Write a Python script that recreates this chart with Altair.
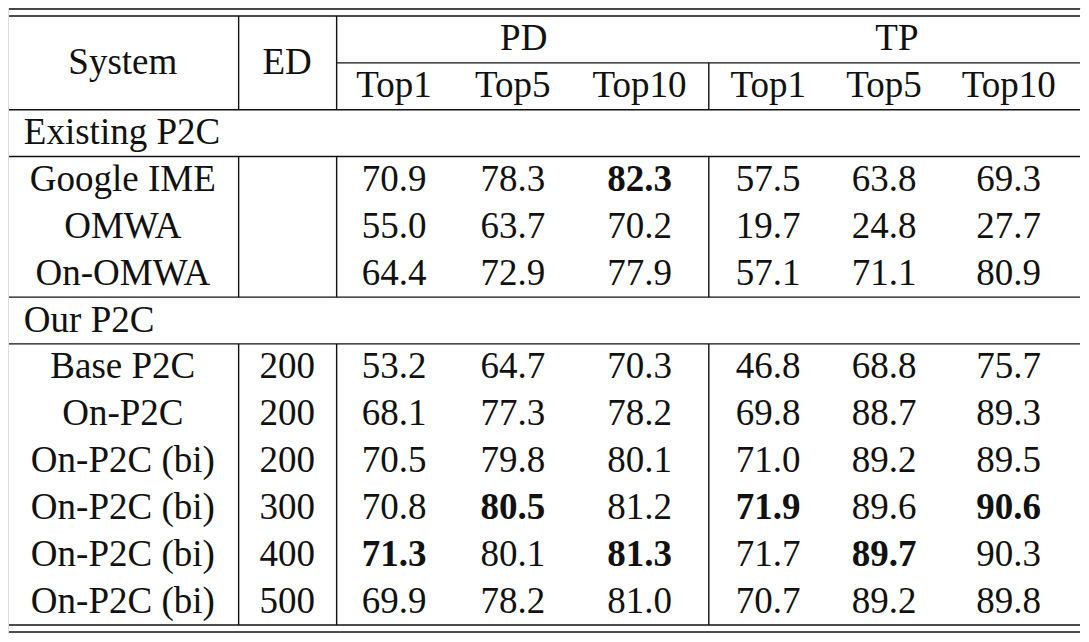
import altair as alt
import pandas as pd

# table contents
systems = ["Google IME", "OMWA", "On-OMWA",
           "Base P2C", "On-P2C", "On-P2C (bi)", "On-P2C (bi)", "On-P2C (bi)", "On-P2C (bi)"]
groups = ["Existing P2C"] * 3 + ["Our P2C"] * 6
eds = ["", "", "", "200", "200", "200", "300", "400", "500"]
pd_top1 = [70.9, 55.0, 64.4, 53.2, 68.1, 70.5, 70.8, 71.3, 69.9]
pd_top5 = [78.3, 63.7, 72.9, 64.7, 77.3, 79.8, 80.5, 80.1, 78.2]
pd_top10 = [82.3, 70.2, 77.9, 70.3, 78.2, 80.1, 81.2, 81.3, 81.0]
tp_top1 = [57.5, 19.7, 57.1, 46.8, 69.8, 71.0, 71.9, 71.7, 70.7]
tp_top5 = [63.8, 24.8, 71.1, 68.8, 88.7, 89.2, 89.6, 89.7, 89.2]
tp_top10 = [69.3, 27.7, 80.9, 75.7, 89.3, 89.5, 90.6, 90.3, 89.8]
metric_cols = ["PD Top1", "PD Top5", "PD Top10", "TP Top1", "TP Top5", "TP Top10"]
bold_cells = [("PD Top10", 0), ("PD Top5", 6), ("TP Top1", 6), ("TP Top10", 6),
              ("PD Top1", 7), ("PD Top10", 7), ("TP Top5", 7)]

# layout (x in page pixels, y in table rows)
col_x = {"System": 118, "ED": 284, "PD Top1": 392, "PD Top5": 512, "PD Top10": 640,
         "TP Top1": 770, "TP Top5": 887, "TP Top10": 1013}
group_x = {"PD": 523, "TP": 900}
label_x = 18
left, right = 3, 1085
v1, v2, v3 = 235, 334, 710
group_start = {"Existing P2C": 2, "Our P2C": 6}

values = [pd_top1, pd_top5, pd_top10, tp_top1, tp_top5, tp_top10]

cells = []
# header
cells.append({"x": col_x["System"], "y": 1.0, "t": "System", "w": "normal", "a": "center"})
cells.append({"x": col_x["ED"], "y": 1.0, "t": "ED", "w": "normal", "a": "center"})
for g, gx in group_x.items():
    cells.append({"x": gx, "y": 0.5, "t": g, "w": "normal", "a": "center"})
for c in metric_cols:
    cells.append({"x": col_x[c], "y": 1.5, "t": c.split(" ")[1], "w": "normal", "a": "center"})
# group labels
for g, r in group_start.items():
    cells.append({"x": label_x, "y": r + 0.5, "t": g, "w": "normal", "a": "left"})
# body
for i, name in enumerate(systems):
    row = group_start[groups[i]] + 1 + (i if i < 3 else i - 3)
    cells.append({"x": col_x["System"], "y": row + 0.5, "t": name, "w": "normal", "a": "center"})
    if eds[i]:
        cells.append({"x": col_x["ED"], "y": row + 0.5, "t": eds[i], "w": "normal", "a": "center"})
    for c, vals in zip(metric_cols, values):
        w = "bold" if (c, i) in bold_cells else "normal"
        cells.append({"x": col_x[c], "y": row + 0.5, "t": f"{vals[i]:.1f}", "w": w, "a": "center"})
cells = pd.DataFrame(cells)

hrules = pd.DataFrame([
    {"x": left, "x2": right, "y": 0, "off": 0},
    {"x": left, "x2": right, "y": 0, "off": -7},
    {"x": v2, "x2": right, "y": 1, "off": 0},
    {"x": left, "x2": right, "y": 2, "off": 0},
    {"x": left, "x2": right, "y": 3, "off": 0},
    {"x": left, "x2": right, "y": 6, "off": 0},
    {"x": left, "x2": right, "y": 7, "off": 0},
    {"x": left, "x2": right, "y": 13, "off": 0},
    {"x": left, "x2": right, "y": 13, "off": 7},
])
vrules = pd.DataFrame(
    [{"x": vx, "y": a, "y2": b} for vx in (v1, v2) for a, b in ((0, 2), (3, 6), (7, 13))]
    + [{"x": v3, "y": a, "y2": b} for a, b in ((1, 2), (3, 6), (7, 13))]
)

# squeeze the table slightly so the outer rules fit inside the page margin
xs = alt.Scale(domain=[2, 1086], nice=False, zero=False)
ys = alt.Scale(domain=[0, 13], range=[8, 617], nice=False, zero=False)
X = alt.X("x:Q", scale=xs, axis=None)
Y = alt.Y("y:Q", scale=ys, axis=None)
ink = "#111111"
serif = "Liberation Serif"


def text_layer(weight, align):
    return alt.Chart(cells).transform_filter(
        (alt.datum.w == weight) & (alt.datum.a == align)
    ).mark_text(
        font=serif, fontSize=37, fontWeight=weight, align=align,
        baseline="middle", color=ink
    ).encode(x=X, y=Y, text="t:N")


layers = []
for off in (0, -7, 7):
    layers.append(
        alt.Chart(hrules).transform_filter(alt.datum.off == off)
        .mark_rule(color=ink, strokeWidth=1.4, yOffset=off)
        .encode(x=X, x2="x2:Q", y=Y)
    )
layers.append(
    alt.Chart(vrules).mark_rule(color=ink, strokeWidth=1.4).encode(x=X, y=Y, y2="y2:Q")
)
layers += [text_layer("normal", "center"), text_layer("bold", "center"),
           text_layer("normal", "left")]

chart = alt.layer(*layers).properties(
    width=1073, height=626, padding=0, autosize=alt.AutoSizeParams(type="none")
).configure_view(stroke=None).configure(background="white")

chart.save("out.html", embed_options={"renderer": "svg", "actions": False})
